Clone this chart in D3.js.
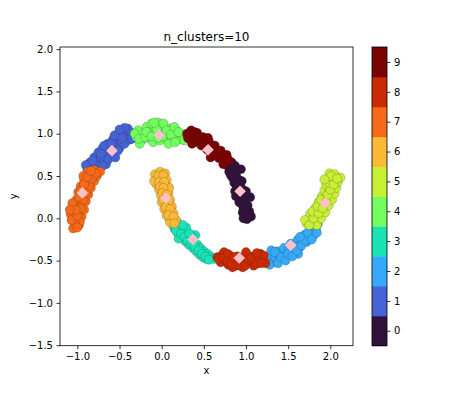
<!DOCTYPE html>
<html>
<head>
<meta charset="utf-8">
<script src="https://cdn.jsdelivr.net/npm/d3@7"></script>
<style>
  body { margin: 0; background: #fff; }
  svg { display: block; font-family: "DejaVu Sans", sans-serif; }
</style>
</head>
<body>
<div id="chart"></div>
<script>
// KMeans on two moons, 10 clusters, grouped by cluster label

const clusterColors = ['#30123b', '#4662d7', '#36aaf9', '#1ae4b6', '#72fe5e',
                       '#c7ef34', '#fbb938', '#f56918', '#ca2a04', '#7a0403'];
const colorbarTicks = [0, 1, 2, 3, 4, 5, 6, 7, 8, 9];
const xTicks = [-1.0, -0.5, 0.0, 0.5, 1.0, 1.5, 2.0];
const yTicks = [-1.5, -1.0, -0.5, 0.0, 0.5, 1.0, 1.5, 2.0];

const cluster0 = [[0.78,0.62],[0.83,0.66],[0.85,0.58],[0.80,0.55],[0.88,0.52],[0.84,0.48],[0.91,0.46],[0.86,0.42],[0.93,0.40],[0.89,0.36],[0.96,0.34],[0.91,0.30],[0.98,0.28],[0.93,0.24],[0.99,0.21],[0.95,0.17],[1.02,0.15],[0.97,0.11],[1.04,0.08],[0.99,0.05],[1.06,0.02],[1.01,-0.01],[0.97,0.00],[0.94,0.58],[1.05,0.25],[0.88,0.26],
  [0.81,0.60],[0.87,0.62],[0.82,0.51],[0.90,0.41],[0.95,0.44],[0.87,0.32],[0.94,0.29],[1.00,0.32],[0.92,0.19],[1.00,0.12],[0.96,0.07],[1.03,0.04],[0.76,0.66]];
const cluster1 = [[-0.88,0.58],[-0.82,0.60],[-0.85,0.66],[-0.78,0.66],[-0.74,0.62],[-0.80,0.72],[-0.72,0.72],[-0.68,0.68],[-0.75,0.78],[-0.66,0.77],[-0.62,0.73],[-0.70,0.83],[-0.60,0.82],[-0.56,0.78],[-0.64,0.88],[-0.54,0.87],[-0.50,0.83],[-0.58,0.93],[-0.48,0.92],[-0.44,0.88],[-0.52,0.98],[-0.42,0.97],[-0.38,0.93],[-0.46,1.02],[-0.36,1.01],[-0.32,0.98],[-0.40,1.06],[-0.90,0.63],[-0.66,0.64],
  [-0.86,0.54],[-0.77,0.57],[-0.70,0.62],[-0.82,0.68],[-0.72,0.76],[-0.63,0.70],[-0.55,0.72],[-0.68,0.86],[-0.60,0.88],[-0.52,0.80],[-0.47,0.95],[-0.56,0.98],[-0.44,1.07],[-0.35,0.94],[-0.50,1.05]];
const cluster2 = [[1.26,-0.50],[1.29,-0.44],[1.32,-0.52],[1.35,-0.46],[1.37,-0.39],[1.40,-0.48],[1.43,-0.41],[1.45,-0.35],[1.48,-0.44],[1.51,-0.37],[1.53,-0.30],[1.56,-0.39],[1.59,-0.32],[1.61,-0.26],[1.64,-0.34],[1.67,-0.27],[1.69,-0.20],[1.72,-0.28],[1.75,-0.21],[1.77,-0.14],[1.80,-0.20],[1.83,-0.13],[1.85,-0.07],[1.30,-0.38],[1.62,-0.42],
  [1.28,-0.55],[1.34,-0.40],[1.38,-0.53],[1.42,-0.46],[1.47,-0.50],[1.50,-0.42],[1.55,-0.45],[1.57,-0.33],[1.60,-0.38],[1.66,-0.32],[1.70,-0.26],[1.73,-0.17],[1.78,-0.25],[1.81,-0.10],[1.84,-0.17],[1.64,-0.22]];
const cluster3 = [[0.12,-0.06],[0.18,-0.04],[0.15,-0.12],[0.22,-0.10],[0.19,-0.17],[0.26,-0.14],[0.24,-0.22],[0.30,-0.19],[0.28,-0.27],[0.34,-0.24],[0.32,-0.31],[0.38,-0.28],[0.37,-0.35],[0.42,-0.31],[0.41,-0.39],[0.46,-0.35],[0.45,-0.43],[0.50,-0.39],[0.49,-0.46],[0.54,-0.42],[0.53,-0.48],[0.58,-0.45],[0.62,-0.48],[0.20,-0.24],[0.29,-0.11],[0.40,-0.20],
  [0.10,-0.02],[0.14,-0.08],[0.17,-0.15],[0.23,-0.18],[0.27,-0.22],[0.31,-0.27],[0.35,-0.30],[0.36,-0.22],[0.39,-0.33],[0.44,-0.38],[0.48,-0.42],[0.52,-0.45],[0.56,-0.49],[0.33,-0.18],[0.25,-0.08]];
const cluster4 = [[-0.30,0.96],[-0.28,1.04],[-0.24,0.92],[-0.22,1.00],[-0.18,1.08],[-0.16,0.95],[-0.14,1.02],[-0.10,0.90],[-0.08,1.06],[-0.06,0.98],[-0.04,1.13],[-0.02,0.92],[0.00,1.02],[0.03,1.08],[0.05,0.95],[0.07,1.01],[0.10,1.06],[0.12,0.93],[0.14,0.99],[0.17,1.04],[0.19,0.95],[0.22,1.00],[0.24,0.93],[0.26,0.98],[-0.26,0.88],[0.08,0.88],[-0.12,1.12],
  [-0.32,1.00],[-0.27,0.94],[-0.20,0.96],[-0.18,1.02],[-0.12,0.97],[-0.06,1.05],[-0.04,0.95],[0.01,0.97],[0.02,1.12],[0.06,1.04],[0.11,0.99],[0.15,1.08],[0.20,1.02],[0.27,0.92],[0.16,0.90],[-0.09,1.13]];
const cluster5 = [[1.72,-0.06],[1.78,-0.02],[1.84,-0.08],[1.76,0.05],[1.83,0.04],[1.89,0.00],[1.82,0.12],[1.88,0.10],[1.94,0.07],[1.86,0.19],[1.92,0.17],[1.98,0.15],[1.90,0.26],[1.96,0.24],[2.02,0.22],[1.93,0.33],[1.99,0.31],[2.05,0.29],[1.95,0.40],[2.01,0.38],[2.07,0.36],[1.97,0.47],[2.03,0.45],[2.09,0.43],[1.99,0.53],[2.05,0.52],[2.12,0.48],
  [1.70,-0.02],[1.75,-0.08],[1.80,0.00],[1.79,0.08],[1.86,0.06],[1.85,0.14],[1.91,0.12],[1.89,0.22],[1.95,0.20],[1.97,0.28],[2.00,0.34],[1.98,0.42],[2.04,0.40],[2.01,0.50],[2.08,0.47],[1.93,0.46]];
const cluster6 = [[-0.08,0.52],[-0.02,0.55],[0.04,0.53],[-0.05,0.46],[0.01,0.48],[0.06,0.45],[-0.06,0.40],[0.00,0.41],[0.05,0.38],[-0.03,0.34],[0.03,0.32],[0.08,0.30],[-0.01,0.27],[0.05,0.24],[0.10,0.22],[0.00,0.19],[0.07,0.16],[0.12,0.14],[0.03,0.11],[0.09,0.08],[0.14,0.06],[0.06,0.03],[0.12,0.00],[0.17,-0.02],[0.10,-0.05],[-0.09,0.44],[0.09,0.36],
  [-0.04,0.50],[0.02,0.51],[-0.03,0.43],[0.03,0.43],[-0.02,0.37],[0.02,0.36],[0.01,0.30],[0.06,0.28],[0.02,0.22],[0.08,0.20],[0.05,0.13],[0.10,0.11],[0.08,0.04],[0.14,0.02],[0.15,-0.06]];
const cluster7 = [[-1.05,-0.12],[-0.98,-0.08],[-1.02,0.00],[-0.95,0.02],[-1.08,0.05],[-0.99,0.08],[-0.92,0.10],[-1.04,0.14],[-0.96,0.17],[-0.90,0.20],[-1.01,0.22],[-0.94,0.26],[-0.87,0.28],[-0.99,0.31],[-0.91,0.34],[-0.84,0.36],[-0.96,0.38],[-0.88,0.42],[-0.80,0.44],[-0.92,0.46],[-0.85,0.50],[-0.77,0.50],[-0.88,0.55],[-0.80,0.57],[-0.73,0.55],[-0.97,-0.04],[-1.06,0.18],[-0.93,0.50],[-1.03,-0.06],
  [-1.00,-0.11],[-1.07,-0.02],[-1.00,0.03],[-0.96,0.12],[-1.02,0.10],[-0.93,0.22],[-0.98,0.25],[-0.90,0.30],[-0.96,0.33],[-0.86,0.39],[-0.92,0.40],[-0.83,0.47],[-0.88,0.49],[-0.78,0.53],[-0.84,0.56],[-1.09,0.10]];
const cluster8 = [[0.66,-0.46],[0.70,-0.52],[0.72,-0.43],[0.76,-0.49],[0.79,-0.55],[0.81,-0.44],[0.85,-0.50],[0.88,-0.56],[0.90,-0.45],[0.93,-0.52],[0.96,-0.58],[0.98,-0.47],[1.01,-0.53],[1.04,-0.45],[1.06,-0.51],[1.09,-0.56],[1.11,-0.44],[1.14,-0.50],[1.17,-0.42],[1.20,-0.48],[1.23,-0.53],[0.74,-0.40],[1.00,-0.40],[0.84,-0.58],
  [0.68,-0.48],[0.73,-0.47],[0.78,-0.42],[0.78,-0.51],[0.83,-0.54],[0.86,-0.46],[0.91,-0.55],[0.95,-0.48],[0.99,-0.56],[1.03,-0.49],[1.07,-0.47],[1.12,-0.54],[1.16,-0.46],[1.21,-0.44],[1.18,-0.53],[1.13,-0.41]];
const cluster9 = [[0.30,1.00],[0.33,0.94],[0.35,1.04],[0.38,0.97],[0.40,0.90],[0.42,1.01],[0.45,0.93],[0.47,0.86],[0.49,0.96],[0.52,0.88],[0.54,0.81],[0.56,0.91],[0.59,0.83],[0.61,0.76],[0.63,0.86],[0.66,0.78],[0.68,0.71],[0.70,0.80],[0.72,0.73],[0.75,0.67],[0.77,0.75],[0.80,0.68],[0.36,0.88],[0.58,0.72],[0.73,0.64],
  [0.31,0.95],[0.34,1.00],[0.39,1.02],[0.41,0.94],[0.44,0.97],[0.46,0.90],[0.51,0.92],[0.53,0.85],[0.57,0.86],[0.60,0.80],[0.64,0.81],[0.66,0.73],[0.69,0.76],[0.74,0.70],[0.78,0.71],[0.55,0.95]];

// cluster centres (pink diamonds), index = label
const centersX = [0.93, -0.59, 1.53, 0.37, -0.03, 1.94, 0.05, -0.94, 0.92, 0.55];
const centersY = [0.32, 0.80, -0.32, -0.25, 0.985, 0.18, 0.24, 0.30, -0.47, 0.81];

const clusters = [cluster0, cluster1, cluster2, cluster3, cluster4,
                  cluster5, cluster6, cluster7, cluster8, cluster9];

const W = 474, H = 395;
const plot = { left: 60, right: 353, top: 47, bottom: 345.7 };
const cbar = { left: 372, right: 387, top: 47, bottom: 345.7 };

const svg = d3.select('#chart').append('svg')
    .attr('width', W)
    .attr('height', H);

const x = d3.scaleLinear().domain([-1.206, 2.269]).range([plot.left, plot.right]);
const y = d3.scaleLinear().domain([-1.506, 2.025]).range([plot.bottom, plot.top]);

// points
const pts = [];
clusters.forEach((c, k) => c.forEach(p => pts.push({ x: p[0], y: p[1], k: k })));

svg.append('g').selectAll('circle')
    .data(pts)
    .join('circle')
    .attr('cx', d => x(d.x))
    .attr('cy', d => y(d.y))
    .attr('r', 4.6)
    .attr('fill', d => clusterColors[d.k])
    .attr('stroke', '#222')
    .attr('stroke-opacity', 0.35)
    .attr('stroke-width', 0.6);

// centres as rotated squares (matplotlib 'D')
const dh = 5.8;
svg.append('g').selectAll('path')
    .data(centersX.map((cx, i) => ({ x: cx, y: centersY[i] })))
    .join('path')
    .attr('d', d => {
        const px = x(d.x), py = y(d.y);
        return 'M' + px + ',' + (py - dh) + 'L' + (px + dh) + ',' + py +
               'L' + px + ',' + (py + dh) + 'L' + (px - dh) + ',' + py + 'Z';
    })
    .attr('fill', '#ffc0cb');

// axes
const xAxis = svg.append('g')
    .attr('transform', 'translate(0,' + plot.bottom + ')')
    .call(d3.axisBottom(x).tickValues(xTicks).tickSize(3.5).tickPadding(3.5).tickFormat(d3.format('.1f')));
const yAxis = svg.append('g')
    .attr('transform', 'translate(' + plot.left + ',0)')
    .call(d3.axisLeft(y).tickValues(yTicks).tickSize(3.5).tickPadding(3.5).tickFormat(d3.format('.1f')));

[xAxis, yAxis].forEach(a => {
    a.select('.domain').remove();
    a.selectAll('line').attr('stroke', '#000').attr('stroke-width', 0.8);
    a.selectAll('text').attr('font-size', 10).attr('fill', '#000')
        .attr('font-family', '"DejaVu Sans", sans-serif')
        .text(function(d) { return d3.format('.1f')(d).replace('-', '\u2212'); });
});

svg.append('rect')
    .attr('x', plot.left).attr('y', plot.top)
    .attr('width', plot.right - plot.left).attr('height', plot.bottom - plot.top)
    .attr('fill', 'none').attr('stroke', '#000').attr('stroke-width', 0.8);

svg.append('text')
    .attr('x', (plot.left + plot.right) / 2).attr('y', 374)
    .attr('text-anchor', 'middle').attr('font-size', 10)
    .text('x');
svg.append('text')
    .attr('transform', 'translate(17,' + ((plot.top + plot.bottom) / 2) + ') rotate(-90)')
    .attr('text-anchor', 'middle').attr('font-size', 10)
    .text('y');

svg.append('text')
    .attr('x', (plot.left + plot.right) / 2).attr('y', 41)
    .attr('text-anchor', 'middle').attr('font-size', 12)
    .text('n_clusters=10');

// colorbar
const cy = d3.scaleLinear().domain([-0.5, 9.5]).range([cbar.bottom, cbar.top]);
svg.append('g').selectAll('rect')
    .data(colorbarTicks)
    .join('rect')
    .attr('x', cbar.left)
    .attr('y', d => cy(d + 0.5))
    .attr('width', cbar.right - cbar.left)
    .attr('height', d => cy(d - 0.5) - cy(d + 0.5) + 0.5)
    .attr('fill', d => clusterColors[d]);

const cAxis = svg.append('g')
    .attr('transform', 'translate(' + cbar.right + ',0)')
    .call(d3.axisRight(cy).tickValues(colorbarTicks).tickSize(3.5).tickPadding(3.5));
cAxis.select('.domain').remove();
cAxis.selectAll('line').attr('stroke', '#000').attr('stroke-width', 0.8);
cAxis.selectAll('text').attr('font-size', 10).attr('fill', '#000')
    .attr('font-family', '"DejaVu Sans", sans-serif');

svg.append('rect')
    .attr('x', cbar.left).attr('y', cbar.top)
    .attr('width', cbar.right - cbar.left).attr('height', cbar.bottom - cbar.top)
    .attr('fill', 'none').attr('stroke', '#000').attr('stroke-width', 0.8);
</script>
</body>
</html>
